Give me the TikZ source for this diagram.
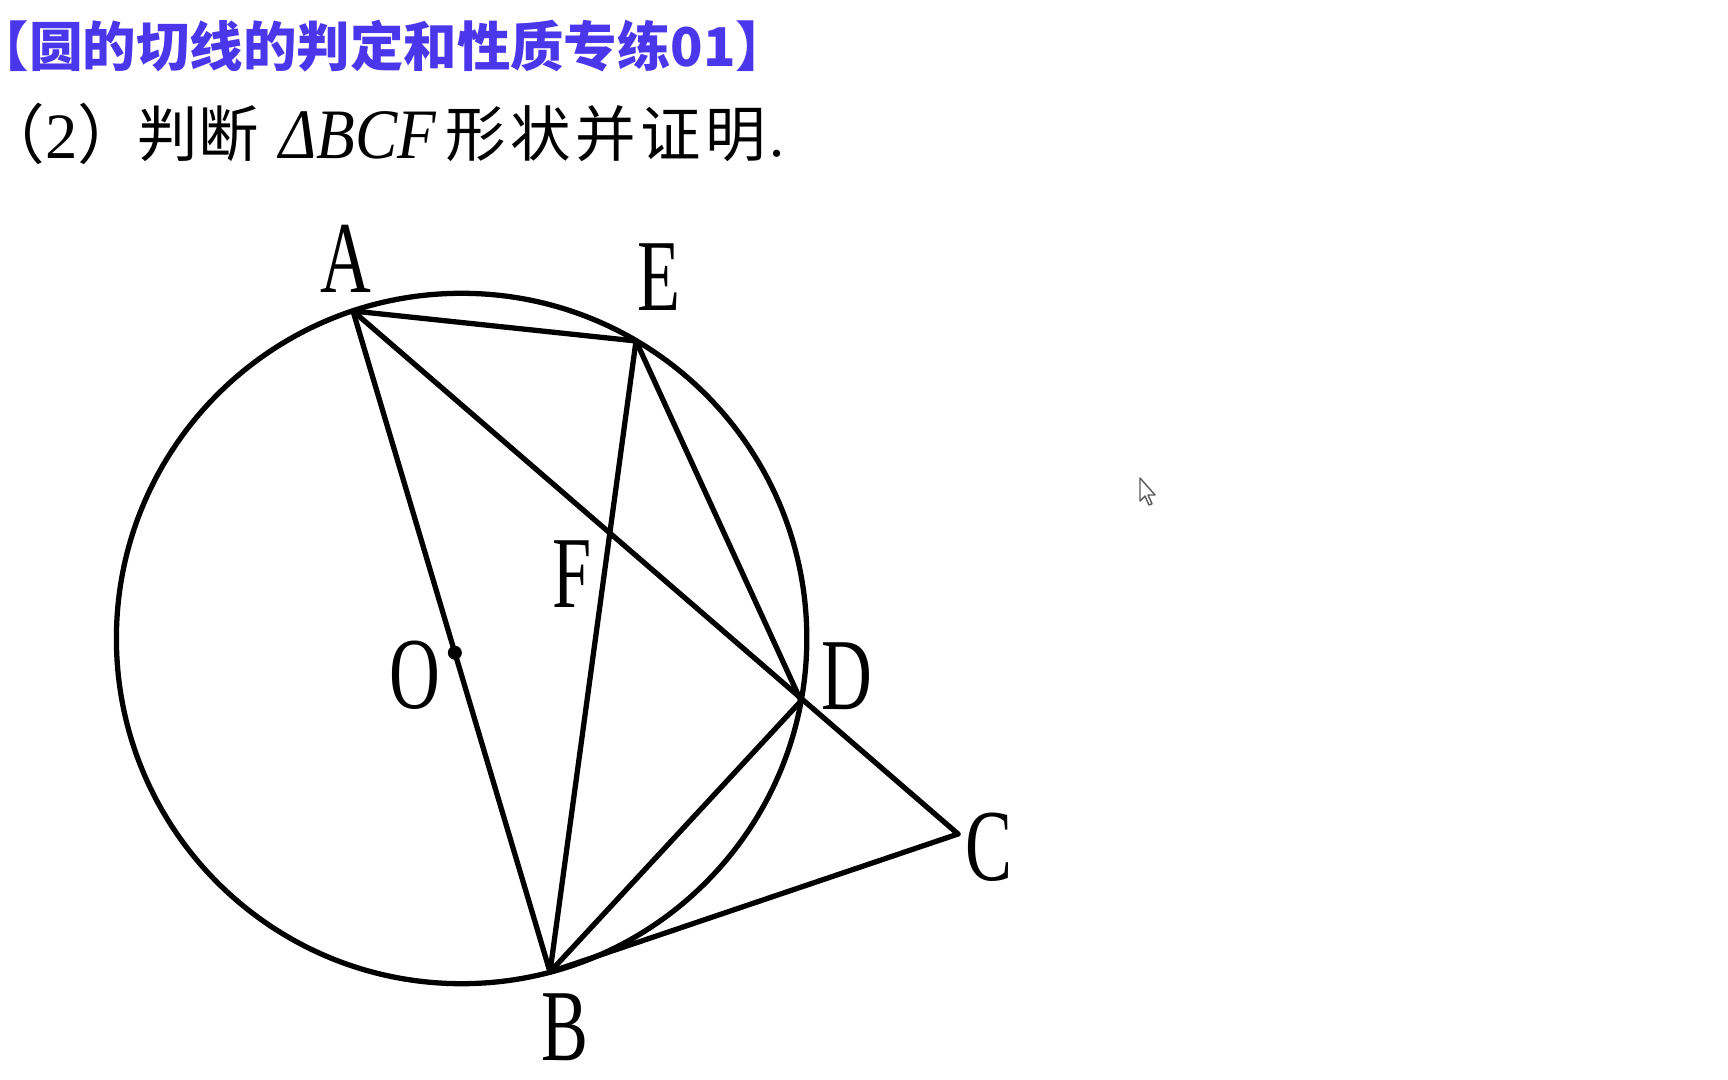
\documentclass[tikz,border=0pt]{standalone}
\usepackage{fontspec}
\usepackage{graphicx}
\usetikzlibrary{calc}
\setmainfont{Liberation Serif}
\newfontfamily\cjk{Noto Sans CJK SC}
\newfontfamily\cjkwide{Noto Sans CJK SC}[LetterSpace=7.5]
\newfontfamily\cjkhalt{Noto Sans CJK SC}[RawFeature=+halt]
\newfontfamily\titlefont{Noto Sans CJK SC}[RawFeature=+halt]
\definecolor{titleblue}{RGB}{75,55,235}
\definecolor{cursorgray}{RGB}{90,90,90}
\tikzset{
  lbl/.style={inner sep=0pt, font=\fontsize{20}{21}\selectfont},
  seg/.style={line width=1.5pt, line cap=round, line join=round},
  txt/.style={anchor=base west, inner sep=0pt},
}
\begin{document}
\begin{tikzpicture}[x=0.01cm,y=-0.01cm]
\useasboundingbox[fill=white] (0,0) rectangle (1728,1080);
% title
\node[txt, text=titleblue, font=\titlefont\bfseries\fontsize{15.2}{17}\selectfont] (title) at (2,67) {【圆的切线的判定和性质专练01】};
% subtitle
\node[txt, font=\fontsize{18.4}{21}\selectfont] (sub1) at (12,159) {{\cjkhalt （}2{\cjkhalt ）}};
\node[txt, font=\cjk\fontsize{17.2}{20}\selectfont] (sub2) at (137,157) {判断};
\node[txt, font=\itshape\fontsize{18}{21}\selectfont] (sub3) at (279,159) {\scalebox{1}[1.12]{ΔBCF}};
\node[txt, font=\fontsize{17.2}{20}\selectfont] (sub4) at (445,157) {{\cjkwide 形状并证明}\kern0.05em.};
% points
\coordinate (A) at (353,311);
\coordinate (E) at (636,341);
\coordinate (D) at (801,701);
\coordinate (C) at (958,834);
\coordinate (B) at (550,972);
\coordinate (Oc) at (461.6,638.5);
\coordinate (O) at ($(A)!0.517!(B)$);
\coordinate (F) at (intersection of A--D and B--E);
% circle and segments
\draw[seg] (Oc) circle[radius=3.45cm];
\draw[seg] (A) -- (E);
\draw[seg] (A) -- (C);
\draw[seg] (A) -- (B);
\draw[seg] (E) -- (B);
\draw[seg] (E) -- (D);
\draw[seg] (D) -- (B);
\draw[seg] (B) -- (C);
\fill (O) circle[radius=0.07cm];
% labels
\node[lbl] (lA) at (346,259) {\scalebox{1}[1.45]{A}};
\node[lbl] (lE) at (659,277) {\scalebox{1}[1.45]{E}};
\node[lbl] (lD) at (847,676) {\scalebox{1}[1.45]{D}};
\node[lbl] (lC) at (989,847) {\scalebox{1}[1.45]{C}};
\node[lbl] (lB) at (565,1027) {\scalebox{1}[1.45]{B}};
\node[lbl] (lO) at (415,675) {\scalebox{1}[1.45]{O}};
\node[lbl] (lF) at (572,574) {\scalebox{1}[1.45]{F}};
% mouse cursor
\draw[cursorgray, fill=white, line width=0.4pt, line join=round]
  (1140,478) -- ++(0,23) -- ++(5,-5) -- ++(4,9) -- ++(3,-1.2) -- ++(-4,-8.8) -- ++(7,0) -- cycle;
\end{tikzpicture}
\end{document}
